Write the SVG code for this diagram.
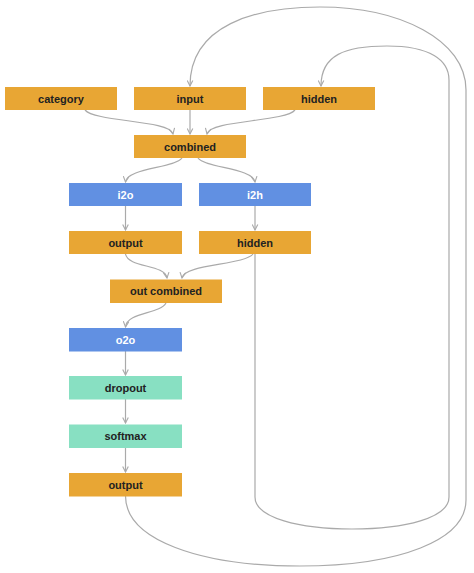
<svg xmlns="http://www.w3.org/2000/svg" width="474" height="573" viewBox="0 0 474 573">
<defs>
<marker id="ah" viewBox="0 0 10 10" refX="9" refY="5" markerWidth="7" markerHeight="7" orient="auto" markerUnits="userSpaceOnUse">
<path d="M1,1 L9,5 L1,9" fill="none" stroke="#aaa" stroke-width="1.6"/>
</marker>
<style>
.o{fill:#E8A634}
.b{fill:#6190E2}
.g{fill:#88E0C2}
text{font-family:"Liberation Sans",Arial,sans-serif;font-size:11px;font-weight:bold;text-anchor:middle}
.dk{fill:#222}
.wt{fill:#fff}
.c path{fill:none;stroke:#aaa;stroke-width:1.2}
</style>
</defs>
<rect width="474" height="573" fill="#fff"/>
<g class="c">
<path d="M85,110 C95,122 170,120 173,134" marker-end="url(#ah)"/>
<path d="M190,110 L190,134" marker-end="url(#ah)"/>
<path d="M295,110 C285,122 210,120 207,134" marker-end="url(#ah)"/>
<path d="M182,158 C175,168 127,168 125.5,182" marker-end="url(#ah)"/>
<path d="M198,158 C205,168 253,168 255,182" marker-end="url(#ah)"/>
<path d="M125.5,206 L125.5,230" marker-end="url(#ah)"/>
<path d="M255,206 L255,230" marker-end="url(#ah)"/>
<path d="M125.5,254 C128,268 165,264 167,278" marker-end="url(#ah)"/>
<path d="M253,254 C245,265 184,264 182,278" marker-end="url(#ah)"/>
<path d="M166,303 C160,314 127,312 125.5,327" marker-end="url(#ah)"/>
<path d="M125.5,351 L125.5,375" marker-end="url(#ah)"/>
<path d="M125.5,399 L125.5,423" marker-end="url(#ah)"/>
<path d="M125.5,448 L125.5,472" marker-end="url(#ah)"/>
<path d="M255,254 L255,497 C255,518 300,529 352,529 C405,529 449,518 449,497 L449,80 C449,60 430,46 387,46 C345,46 321,55 321,86" marker-end="url(#ah)"/>
<path d="M125.5,496 C125.5,540 200,566 300,566 C400,566 466,540 466,500 L466,90 C466,40 400,7 320,7 C255,7 190,25 190,86" marker-end="url(#ah)"/>
</g>
<g id="category"><rect class="o" x="5" y="87" width="112" height="23"/><text class="dk" x="61" y="102.5">category</text></g>
<g id="input"><rect class="o" x="134" y="87" width="112" height="23"/><text class="dk" x="190" y="102.5">input</text></g>
<g id="hidden"><rect class="o" x="263" y="87" width="112" height="23"/><text class="dk" x="319" y="102.5">hidden</text></g>
<g id="combined"><rect class="o" x="134" y="135" width="112" height="23"/><text class="dk" x="190" y="150.5">combined</text></g>
<g id="i2o"><rect class="b" x="69" y="183" width="113" height="23"/><text class="wt" x="125.5" y="198.5">i2o</text></g>
<g id="i2h"><rect class="b" x="199" y="183" width="112" height="23"/><text class="wt" x="255" y="198.5">i2h</text></g>
<g id="output1"><rect class="o" x="69" y="231" width="113" height="23"/><text class="dk" x="125.5" y="246.5">output</text></g>
<g id="hidden2"><rect class="o" x="199" y="231" width="112" height="23"/><text class="dk" x="255" y="246.5">hidden</text></g>
<g id="outcombined"><rect class="o" x="110" y="279.5" width="112" height="23.5"/><text class="dk" x="166" y="295">out combined</text></g>
<g id="o2o"><rect class="b" x="69" y="328" width="113" height="23.5"/><text class="wt" x="125.5" y="343.5">o2o</text></g>
<g id="dropout"><rect class="g" x="69" y="376" width="113" height="23.5"/><text class="dk" x="125.5" y="391.5">dropout</text></g>
<g id="softmax"><rect class="g" x="69" y="424.5" width="113" height="23.5"/><text class="dk" x="125.5" y="440">softmax</text></g>
<g id="output2"><rect class="o" x="69" y="473" width="113" height="23.5"/><text class="dk" x="125.5" y="488.5">output</text></g>
</svg>
